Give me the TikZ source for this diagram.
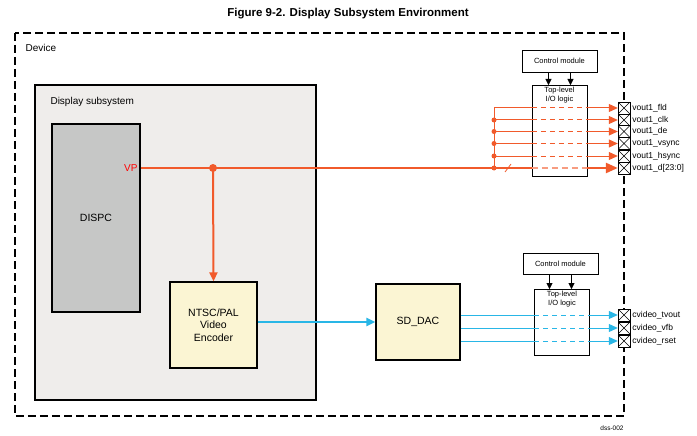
\documentclass[tikz,border=0pt]{standalone}
\usepackage{fontspec}
\setmainfont{Liberation Sans}
\usetikzlibrary{arrows.meta}
\definecolor{vpred}{HTML}{F15A2B}
\definecolor{vidblue}{HTML}{29B6E6}
\definecolor{subgray}{HTML}{EFEDEB}
\definecolor{dispgray}{HTML}{C6C7C6}
\definecolor{encyel}{HTML}{FBF5D3}
\begin{document}
\begin{tikzpicture}[
  x=1pt, y=-1pt,
  box/.style={
    draw,
    rectangle,
    inner sep=0pt,
    align=center,
    font=\fontsize{10.5}{12.5}\selectfont
  },
  small/.style={
    draw,
    rectangle,
    inner sep=0pt,
    align=center,
    font=\fontsize{7.5}{9}\selectfont
  },
  pin/.style={
    draw,
    rectangle,
    fill=white,
    minimum width=12pt,
    minimum height=12pt,
    inner sep=0pt,
    path picture={\draw (path picture bounding box.south west) -- (path picture bounding box.north east)
                        (path picture bounding box.north west) -- (path picture bounding box.south east);}
  },
  plabel/.style={
    right,
    inner sep=2pt,
    font=\fontsize{8.5}{10}\selectfont
  },
  dot/.style={
    circle,
    fill=vpred,
    inner sep=0pt,
    minimum size=8pt
  },
  >={Triangle[length=9pt,width=8pt]}
]
\useasboundingbox (0,0) rectangle (697,436);

% Title
\node[font=\bfseries\fontsize{11.5}{13}\selectfont] (title) at (348,14) {Figure 9-2. Display Subsystem Environment};

% Device
\draw[line width=2pt, dash pattern=on 8pt off 4pt] (15,33) rectangle (624,416);
\node[anchor=west, font=\fontsize{10}{12}\selectfont] (device) at (22,48) {Device};
\node[font=\fontsize{6.5}{7}\selectfont] (tag) at (612,428) {dss-002};

% Display subsystem
\draw[line width=2pt, fill=subgray] (35,85) rectangle (316,400);
\node[anchor=west, font=\fontsize{10}{12}\selectfont] (dsslabel) at (47,102) {Display subsystem};

% Blocks
\node[box, fill=dispgray, line width=1.3pt, minimum width=88pt, minimum height=188pt] (dispc) at (96,218) {DISPC};
\node[anchor=east, text=red, inner sep=3pt, font=\fontsize{10}{12}\selectfont] (vp) at (dispc.east |- 0,168) {VP};
\node[box, fill=encyel, line width=1.3pt, minimum width=87pt, minimum height=86pt] (enc) at (213.5,325) {NTSC/PAL\\Video\\Encoder};
\node[box, fill=encyel, line width=1.3pt, minimum width=84pt, minimum height=76pt] (dac) at (418,322) {SD\_DAC};

% Top-level I/O
\node[small, minimum width=75pt, minimum height=22pt] (ctrl1) at (559.5,61) {Control module};
\node[small, minimum width=55pt, minimum height=91pt, anchor=north] (io1) at (559.5,85) {};
\node[small, draw=none, anchor=north, inner sep=2pt] (io1t) at (io1.north) {Top-level\\I/O logic};
\node[small, minimum width=75pt, minimum height=21pt] (ctrl2) at (560.5,264) {Control module};
\node[small, minimum width=55pt, minimum height=66pt, anchor=north] (io2) at (562,289) {};
\node[small, draw=none, anchor=north, inner sep=2pt] (io2t) at (io2.north) {Top-level\\I/O logic};
\foreach \xx in {-11,11} {
  \draw[-{Triangle[length=6pt,width=6pt]}] ([xshift=\xx pt]ctrl1.south) -- ([xshift=\xx pt]ctrl1.south |- io1.north);
  \draw[-{Triangle[length=6pt,width=6pt]}] ([xshift=\xx pt]ctrl2.south) -- ([xshift=\xx pt]ctrl2.south |- io2.north);
}

% Pins
\foreach \y/\name [count=\i] in {108/fld,120/clk,131.5/de,143.5/vsync,156/hsync,168/d[23:0]} {
  \node[pin] (p\i) at (624,\y) {};
  \node[plabel] (pl\i) at (p\i.east) {vout1\_\name};
}
\foreach \y/\name [count=\i] in {315/tvout,328/vfb,341/rset} {
  \node[pin] (q\i) at (624,\y) {};
  \node[plabel] (ql\i) at (q\i.east) {cvideo\_\name};
}

% VP bus
\coordinate (split) at (213,168);
\coordinate (bus) at (494,168);
\draw[vpred, line width=2pt] (vp.east) -- (split);
\node[dot] (d0) at (split) {};
\draw[vpred, line width=2pt, ->] (split) -- (enc.north);
\draw[vpred, line width=2.5pt] (split) -- (io1.west |- bus);
\draw[vpred!60, line width=2.5pt, dash pattern=on 6pt off 4pt] (io1.west |- bus) -- (io1.east |- bus);
\draw[vpred, line width=2.5pt, -{Triangle[length=12pt,width=10pt]}] (io1.east |- bus) -- (p6.west);
\draw[vpred, line width=0.8pt] (505,172) -- (511,164);
\draw[vpred, line width=1pt] (bus) -- (bus |- p1);
\foreach \i in {1,...,5} {
  \draw[vpred, line width=1pt] (bus |- p\i) -- (io1.west |- p\i);
  \draw[vpred, line width=1pt, dash pattern=on 5pt off 4pt] (io1.west |- p\i) -- (io1.east |- p\i);
  \draw[vpred, line width=1pt, ->] (io1.east |- p\i) -- (p\i.west);
}
\foreach \i in {2,...,6} {
  \node[dot, minimum size=5pt] (b\i) at (bus |- p\i) {};
}

% Video
\draw[vidblue, line width=2.5pt, ->] (enc.east |- dac) -- (dac.west);
\foreach \i in {1,2,3} {
  \draw[vidblue, line width=1pt] (dac.east |- q\i) -- (io2.west |- q\i);
  \draw[vidblue, line width=1pt, dash pattern=on 5pt off 4pt] (io2.west |- q\i) -- (io2.east |- q\i);
  \draw[vidblue, line width=1pt, ->] (io2.east |- q\i) -- (q\i.west);
}
\end{tikzpicture}
\end{document}
